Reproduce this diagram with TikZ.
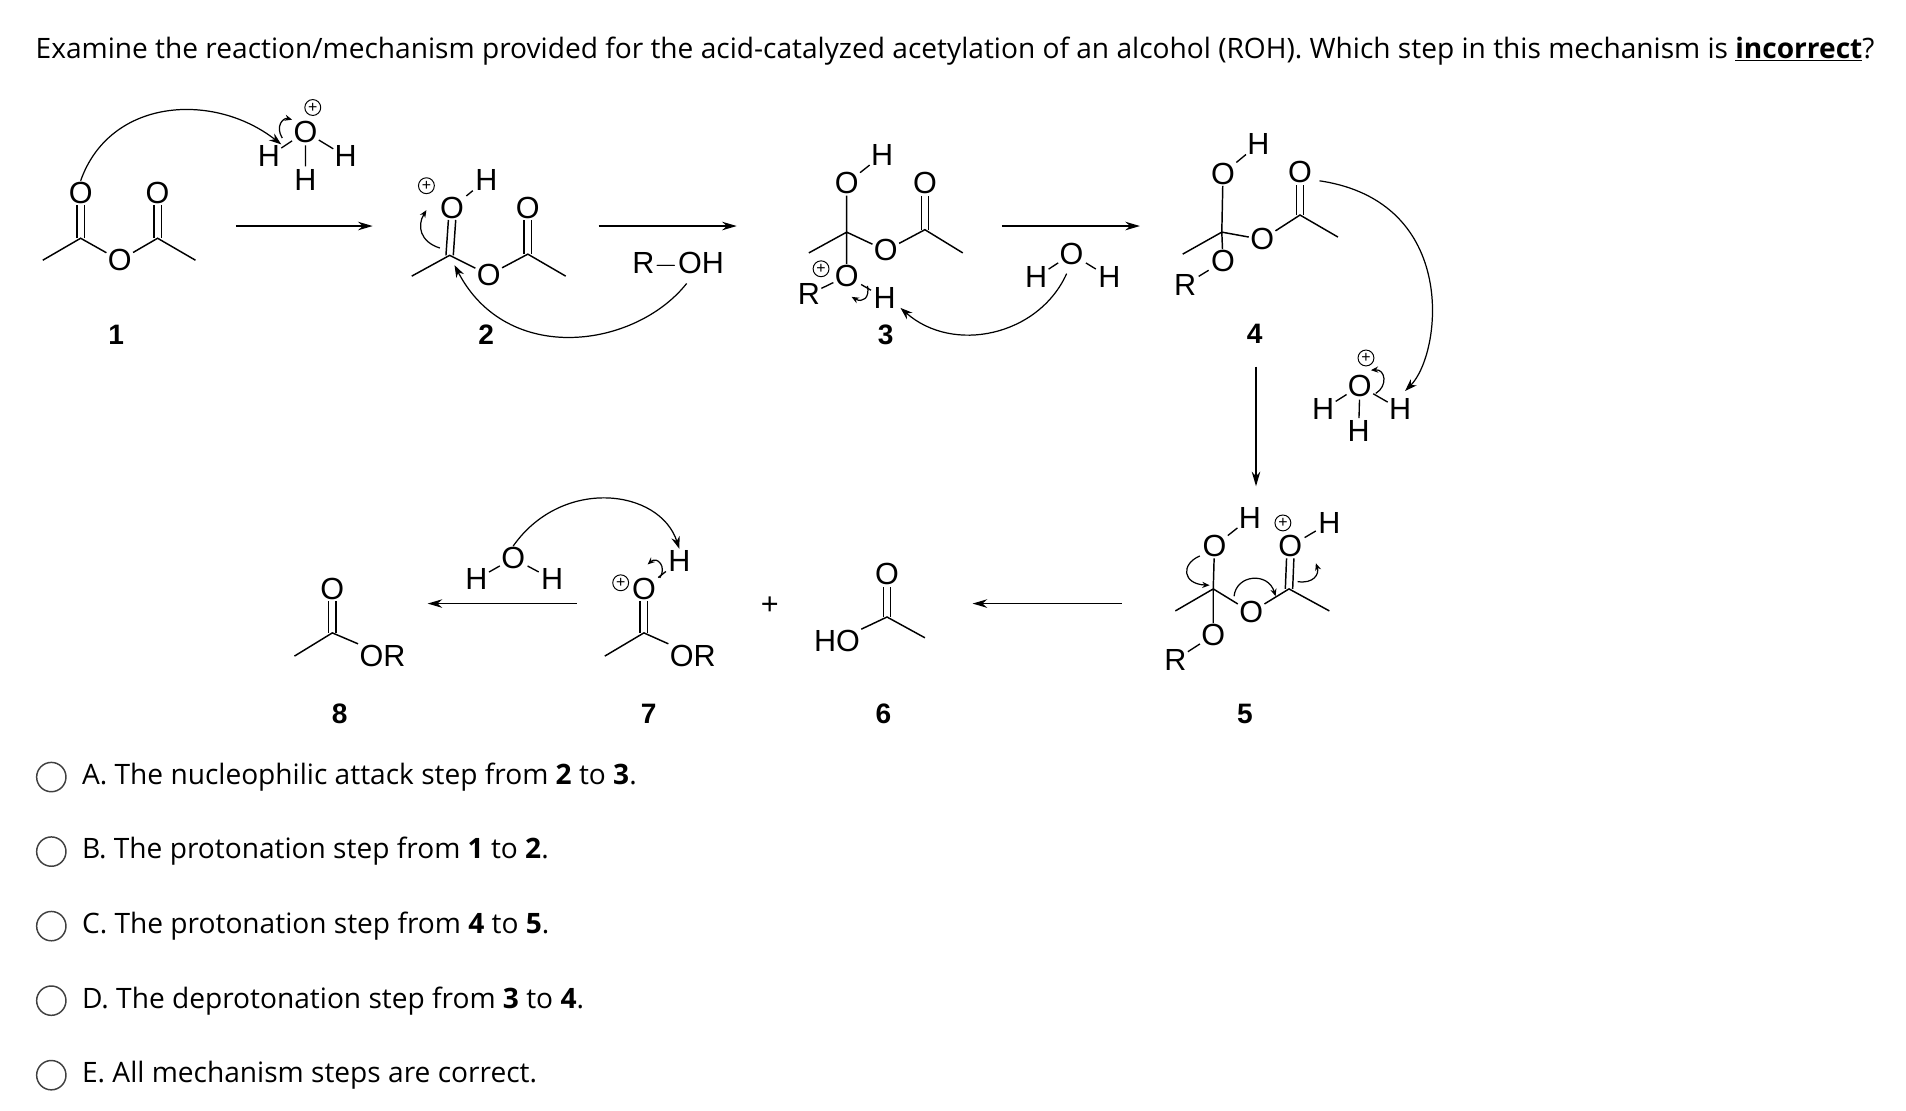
\documentclass[tikz,border=0pt]{standalone}
\usepackage{fontspec}
\setmainfont{Open Sans}
\newfontfamily\chem{Liberation Sans}
\usetikzlibrary{arrows.meta}
\begin{document}
\begin{tikzpicture}[x=1pt,y=-1pt,
  atm/.style={font=\chem\fontsize{25}{25}\selectfont,inner sep=1pt},
  num/.style={font=\chem\bfseries\fontsize{23}{23}\selectfont},
  pl/.style={circle,draw,line width=0.8pt,inner sep=0pt,minimum size=13pt,font=\chem\fontsize{13}{13}\selectfont},
  bond/.style={line width=1.2pt},
  hb/.style={line width=1.1pt,shorten <=1pt,shorten >=1pt},
  rx/.style={line width=1.2pt,-{Stealth[length=12pt,width=7pt]}},
  cur/.style={line width=1pt,-{Stealth[length=10pt,width=7pt]}},
  sm/.style={line width=1pt,-{Stealth[length=6pt,width=5pt]}},
  opt/.style={circle,draw=black!75,line width=1.2pt,minimum size=24pt,inner sep=0pt},
  otx/.style={anchor=west,font=\fontsize{23}{23}\selectfont,inner sep=0pt}]
\useasboundingbox (0,0) rectangle (1560,909);
\node[anchor=west,font=\fontsize{23}{23}\selectfont,inner sep=0pt] (q) at (29,42) {Examine the reaction/mechanism provided for the acid-catalyzed acetylation of an alcohol (ROH). Which step in this mechanism is \textbf{\underline{incorrect}}?};
% ---------- molecule 1
\node[atm] (a1o1) at (66,158) {O};
\node[atm] (a1o2) at (129,158) {O};
\node[atm] (a1ob) at (98,213) {O};
\coordinate (a1c1) at (66,195); \coordinate (a1c2) at (129,195);
\coordinate (a1m1) at (35,213); \coordinate (a1m2) at (160,213);
\draw[bond] (a1m1)--(a1c1)--(a1ob)--(a1c2)--(a1m2);
\draw[bond] ([xshift=-3]a1c1)--([xshift=-3]a1o1.south) ([xshift=3]a1c1)--([xshift=3]a1o1.south);
\draw[bond] ([xshift=-3]a1c2)--([xshift=-3]a1o2.south) ([xshift=3]a1c2)--([xshift=3]a1o2.south);
\node[num] (n1) at (95,274) {1};
% H3O+
\node[atm] (h1o) at (250,108) {O};
\node[atm] (h1a) at (220,128) {H};
\node[atm] (h1b) at (283,128) {H};
\node[atm] (h1c) at (250,147) {H};
\node[pl] (h1p) at (256,88) {+};
\draw[hb] (h1o)--(h1a) (h1o)--(h1b) (h1o)--(h1c);
\draw[cur] (a1o1.north) .. controls (90,80) and (175,75) .. (h1a.north east);
\draw[sm] (231,113) .. controls (225,103) and (232,96) .. (h1o.north west);
\draw[rx] (193,185)--(305,185);
% ---------- molecule 2
\node[atm] (a2o1) at (370,170) {O};
\node[atm] (a2h) at (398,147) {H};
\node[pl] (a2p) at (349,152) {+};
\node[atm] (a2ob) at (400,225) {O};
\node[atm] (a2o2) at (432,170) {O};
\coordinate (a2c1) at (368,209); \coordinate (a2c2) at (432,208);
\coordinate (a2m1) at (337,226); \coordinate (a2m2) at (463,226);
\draw[bond] (a2m1)--(a2c1)--(a2ob)--(a2c2)--(a2m2);
\draw[bond] ([xshift=-3]a2c1)--([xshift=-3]a2o1.south) ([xshift=3]a2c1)--([xshift=3]a2o1.south);
\draw[bond] ([xshift=-3]a2c2)--([xshift=-3]a2o2.south) ([xshift=3]a2c2)--([xshift=3]a2o2.south);
\draw[hb] (a2o1)--(a2h);
\draw[sm] (360,203) .. controls (344,198) and (341,185) .. (349,172);
\node[atm] (roh) at (555,216) {R$-$OH};
\draw[cur] (562,232) .. controls (520,285) and (415,300) .. (372,217);
\node[num] (n2) at (398,274) {2};
\draw[rx] (490,185)--(603,185);
% ---------- molecule 3
\coordinate (a3c) at (693,190);
\node[atm] (a3ot) at (693,150) {O};
\node[atm] (a3h) at (722,127) {H};
\node[atm] (a3o) at (693,226) {O};
\node[pl] (a3p) at (672,220) {+};
\node[atm] (a3r) at (662,241) {R};
\node[atm] (a3h2) at (724,244) {H};
\node[atm] (a3ob) at (725,205) {O};
\node[atm] (a3o2) at (757,150) {O};
\coordinate (a3c2) at (757,188); \coordinate (a3m1) at (662,207); \coordinate (a3m2) at (788,207);
\draw[bond] (a3ot)--(a3c)--(a3o) (a3m1)--(a3c)--(a3ob)--(a3c2)--(a3m2);
\draw[bond] ([xshift=-3]a3c2)--([xshift=-3]a3o2.south) ([xshift=3]a3c2)--([xshift=3]a3o2.south);
\draw[hb] (a3ot)--(a3h) (a3o)--(a3r) (a3o)--(a3h2);
\draw[sm] (710,234) .. controls (712,244) and (706,248) .. (697,243);
\node[num] (n3) at (725,274) {3};
\draw[rx] (820,185)--(933,185);
\node[atm] (w1o) at (877,208) {O};
\node[atm] (w1a) at (848,227) {H};
\node[atm] (w1b) at (908,227) {H};
\draw[hb] (w1o)--(w1a) (w1o)--(w1b);
\draw[cur] (873,224) .. controls (850,275) and (780,290) .. (737,252);
% ---------- molecule 4
\coordinate (a4c) at (1000,190);
\node[atm] (a4ot) at (1001,142) {O};
\node[atm] (a4h) at (1030,118) {H};
\node[atm] (a4o) at (1001,214) {O};
\node[atm] (a4r) at (970,233) {R};
\node[atm] (a4ob) at (1033,196) {O};
\node[atm] (a4o2) at (1064,141) {O};
\coordinate (a4c2) at (1064,176); \coordinate (a4m1) at (968,208); \coordinate (a4m2) at (1095,194);
\draw[bond] (a4ot)--(a4c)--(a4o) (a4m1)--(a4c)--(a4ob)--(a4c2)--(a4m2);
\draw[bond] ([xshift=-3]a4c2)--([xshift=-3]a4o2.south) ([xshift=3]a4c2)--([xshift=3]a4o2.south);
\draw[hb] (a4ot)--(a4h) (a4o)--(a4r);
\node[num] (n4) at (1027,273) {4};
\node[atm] (h2o) at (1113,316) {O};
\node[pl] (h2p) at (1118,293) {+};
\node[atm] (h2a) at (1083,335) {H};
\node[atm] (h2b) at (1146,335) {H};
\node[atm] (h2c) at (1112,353) {H};
\draw[hb] (h2o)--(h2a) (h2o)--(h2b) (h2o)--(h2c);
\draw[cur] (1080,148) .. controls (1195,165) and (1180,290) .. (1150,320);
\draw[sm] (1126,322) .. controls (1136,316) and (1134,302) .. (1122,303);
\draw[rx] (1028,300)--(1028,398);
% ---------- molecule 5
\coordinate (a5c) at (993,482);
\node[atm] (a5ot) at (994,447) {O};
\node[atm] (a5h) at (1023,424) {H};
\node[atm] (a5o) at (993,520) {O};
\node[atm] (a5r) at (962,540) {R};
\node[atm] (a5ob) at (1024,501) {O};
\node[atm] (a5o2) at (1056,447) {O};
\node[pl] (a5p) at (1050,428) {+};
\node[atm] (a5h2) at (1088,428) {H};
\coordinate (a5c2) at (1055,482); \coordinate (a5m1) at (962,500); \coordinate (a5m2) at (1088,500);
\draw[bond] (a5ot)--(a5c)--(a5o) (a5m1)--(a5c)--(a5ob)--(a5c2)--(a5m2);
\draw[bond] ([xshift=-3]a5c2)--([xshift=-3]a5o2.south) ([xshift=3]a5c2)--([xshift=3]a5o2.south);
\draw[hb] (a5ot)--(a5h) (a5o)--(a5r) (a5o2)--(a5h2);
\draw[sm] (982,455) .. controls (966,462) and (968,478) .. (990,479);
\draw[sm] (1010,488) .. controls (1012,470) and (1038,468) .. (1044,488);
\draw[sm] (1062,476) .. controls (1075,478) and (1080,470) .. (1077,461);
\node[num] (n5) at (1019,584) {5};
\draw[rx] (918,494)--(796,494);
% ---------- molecule 6
\node[atm] (a6o) at (726,470) {O};
\node[atm] (a6ho) at (685,525) {HO};
\coordinate (a6c) at (726,505); \coordinate (a6m) at (757,522);
\draw[bond] (a6ho.north east)--(a6c)--(a6m);
\draw[bond] ([xshift=-3]a6c)--([xshift=-3]a6o.south) ([xshift=3]a6c)--([xshift=3]a6o.south);
\node[num] (n6) at (723,584) {6};
\node[atm] (plus) at (630,496) {+};
% ---------- molecule 7
\node[atm] (a7o) at (527,482) {O};
\node[pl] (a7p) at (508,477) {+};
\node[atm] (a7h) at (556,459) {H};
\node[atm] (a7or) at (567,537) {OR};
\coordinate (a7c) at (527,518); \coordinate (a7m) at (495,537);
\draw[bond] (a7m)--(a7c)--(a7or.north west);
\draw[bond] ([xshift=-3]a7c)--([xshift=-3]a7o.south) ([xshift=3]a7c)--([xshift=3]a7o.south);
\draw[hb] (a7o)--(a7h);
\draw[sm] (540,473) .. controls (546,464) and (538,455) .. (530,462);
\node[num] (n7) at (531,584) {7};
\node[atm] (w2o) at (420,457) {O};
\node[atm] (w2a) at (390,474) {H};
\node[atm] (w2b) at (452,474) {H};
\draw[hb] (w2o)--(w2a) (w2o)--(w2b);
\draw[cur] (w2o.north) .. controls (460,390) and (540,400) .. (a7h.north);
\draw[rx] (472,494)--(350,494);
% ---------- molecule 8
\node[atm] (a8o) at (272,482) {O};
\node[atm] (a8or) at (313,537) {OR};
\coordinate (a8c) at (272,518); \coordinate (a8m) at (241,537);
\draw[bond] (a8m)--(a8c)--(a8or.north west);
\draw[bond] ([xshift=-3]a8c)--([xshift=-3]a8o.south) ([xshift=3]a8c)--([xshift=3]a8o.south);
\node[num] (n8) at (278,584) {8};
% ---------- options
\node[opt] (ca) at (42,636) {}; \node[otx] (ta) at (67,636) {A. The nucleophilic attack step from \textbf{2} to \textbf{3}.};
\node[opt] (cb) at (42,697) {}; \node[otx] (tb) at (67,697) {B. The protonation step from \textbf{1} to \textbf{2}.};
\node[opt] (cc) at (42,758) {}; \node[otx] (tc) at (67,758) {C. The protonation step from \textbf{4} to \textbf{5}.};
\node[opt] (cd) at (42,819) {}; \node[otx] (td) at (67,819) {D. The deprotonation step from \textbf{3} to \textbf{4}.};
\node[opt] (ce) at (42,880) {}; \node[otx] (te) at (67,880) {E. All mechanism steps are correct.};
\end{tikzpicture}
\end{document}
